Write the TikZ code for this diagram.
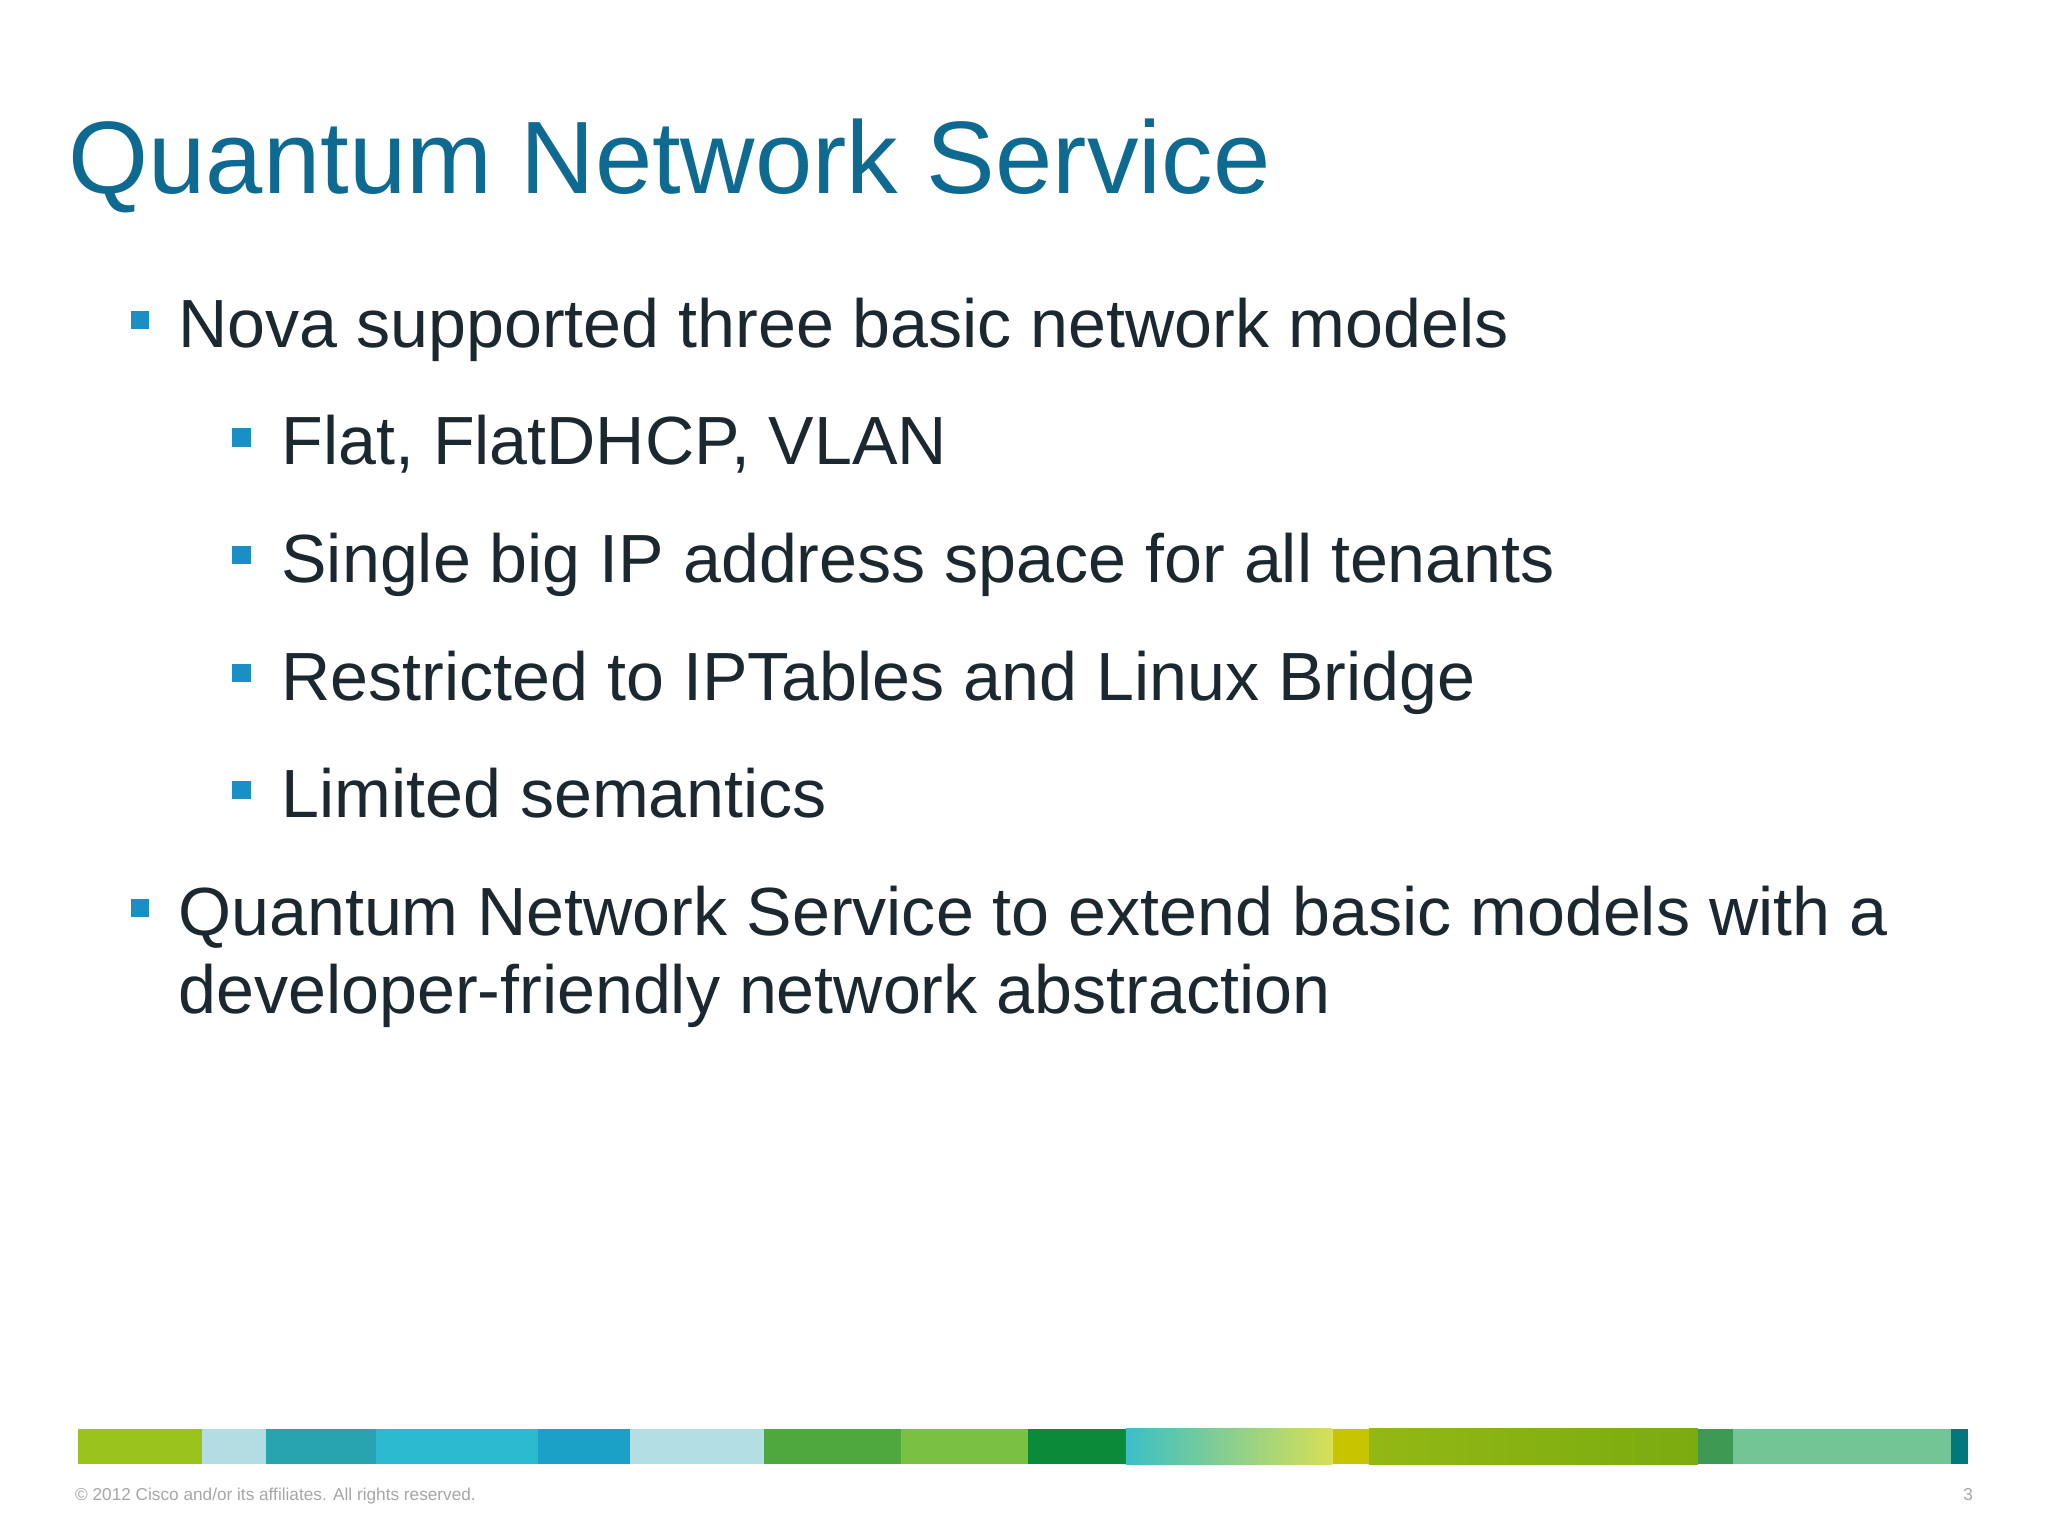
\documentclass[tikz,border=0pt]{standalone}
\usepackage{fontspec}
\setmainfont{Liberation Sans}
\definecolor{titleC}{HTML}{0E6A90}
\definecolor{txtC}{HTML}{1C2830}
\definecolor{bulC}{HTML}{1A8FC6}
\begin{document}
\begin{tikzpicture}[x=0.013061cm,y=-0.013061cm,
  txt/.style={anchor=base west,inner sep=0,text=txtC,font=\fontsize{19.4}{22.3}\selectfont},
  bul/.style={fill=bulC}]
\fill[white] (0,0) rectangle (1568,1176);
\node[anchor=base west,inner sep=0,text=titleC,font=\fontsize{29.3}{34}\selectfont] (title) at (52,148) {Quantum Network Service};
\fill[bul] (100,238) rectangle (114,252);
\node[txt] (b1) at (136,266) {Nova supported three basic network models};
\foreach \y/\t [count=\i] in {356/{Flat, FlatDHCP, VLAN},446/{Single big IP address space for all tenants},536/{Restricted to IPTables and Linux Bridge},626/{Limited semantics}}{
  \fill[bul] (178,\y-28) rectangle (192,\y-14);
  \node[txt] (s\i) at (215,\y) {\t};
}
\fill[bul] (100,688) rectangle (114,702);
\node[txt] (b2) at (136,716) {Quantum Network Service to extend basic models with a};
\node[txt] (b2b) at (136,776) {developer-friendly network abstraction};
% colour bar
\foreach \a/\b/\c in {60/155/9AC31C,155/204/B3DDE3,204/288/28A3B0,288/412/2BBAD0,412/482/1BA0C8,482/585/B3DEE3,585/690/4FA83E,690/787/7AC143,787/862/0B8A3A,1020/1048/C8C400,1300/1327/3E9A52,1327/1494/73C595,1494/1507/00787C}{
  \definecolor{tmp}{HTML}{\c}\fill[tmp] (\a,1094) rectangle (\b,1121);}
\definecolor{ga}{HTML}{3BBFC7}\definecolor{gb}{HTML}{D8DF55}
\definecolor{gc}{HTML}{93B814}\definecolor{gd}{HTML}{7AAB10}
\shade[left color=ga,right color=gb] (862,1094) rectangle (1020,1121);
\shade[left color=gc,right color=gd] (1048,1094) rectangle (1300,1121);
\node[anchor=base west,inner sep=0,text=black!35,font=\fontsize{4.9}{6}\selectfont] (copy) at (57,1149) {© 2012 Cisco and/or its affiliates. All rights reserved.};
\node[anchor=base east,inner sep=0,text=black!35,font=\fontsize{4.9}{6}\selectfont] (pg) at (1511,1149) {3};
\end{tikzpicture}
\end{document}
